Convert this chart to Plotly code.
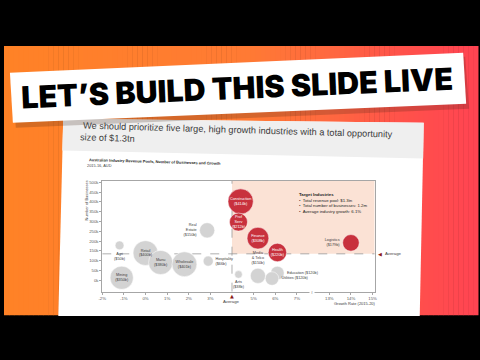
import plotly.graph_objects as go

W, H = 480, 360

# ---------------- data ----------------
industries = ["Agri", "Mining", "Retail", "Manu", "Wholesale", "Real Estate", "Hospitality", "Arts",
              "Construction", "Prof Serv", "Finance", "Health", "Logistics",
              "Media & Telco", "Education", "Utilities"]
labels = ["Agri<br>($50b)", "Mining<br>($350b)", "Retail<br>($400b)", "Manu<br>($380b)",
          "Wholesale<br>($401b)", "Real<br>Estate<br>($150b)", "Hospitality<br>($66b)", "Arts<br>($38b)",
          "Construction<br>($414b)", "Prof<br>Serv<br>($212b)", "Finance<br>($308b)", "Health<br>($220b)",
          "Logistics<br>($179b)", "Media<br>& Telco<br>($150b)", "Education ($120b)", "Utilities ($120b)"]
growth = [-1.2, -1.1, 0.0, 0.7, 1.8, 2.85, 2.9, 4.3, 4.4, 4.3, 5.2, 6.1, 14.0, 5.2, 6.1, 5.85]
businesses = [178000, 13000, 139000, 91000, 82000, 255000, 98000, 30000,
              402000, 297000, 215000, 142000, 191000, 23000, 37000, 9000]
revenue = [50, 350, 400, 380, 401, 150, 66, 38, 414, 212, 308, 220, 179, 150, 120, 120]
target = [False] * 8 + [True] * 5 + [False] * 3
label_pos = ["bottom center", "middle center", "middle center", "middle center", "middle center",
             "middle left", "middle right", "bottom center",
             "middle center", "middle center", "middle center", "middle center", "middle left",
             "top center", "middle right", "middle right"]

avg_growth = 4.0
avg_businesses = 135000

growth_ticks = [-2, -1, 0, 1, 2, 3, 5, 6, 7, 13, 14, 15]
growth_ticktext = ["-2%", "-1%", "0%", "1%", "2%", "3%", "5%", "6%", "7%", "13%", "14%", "15%"]
business_ticks = [0, 50000, 100000, 150000, 200000, 250000, 300000, 350000, 400000, 450000, 500000]
business_ticktext = ["0k", "50k", "100k", "150k", "200k", "250k", "300k", "350k", "400k", "450k", "500k"]

target_notes = ["Total revenue pool: $1.3tn", "Total number of businesses: 1.2m",
                "Average industry growth: 6.1%"]

# axis break (7% .. 13% compressed)
BREAK_AT, BREAK_GAP = 7.75, 4.5


def disp(g):
    return g if g < BREAK_AT else g - BREAK_GAP


X_RANGE = [-2, 10.6]
Y_RANGE = [-58000, 509000]


# ---------------- helpers ----------------
def px(x):
    return x / W


def py(y):
    return 1 - y / H


def poly(pts):
    return "M " + " L ".join(f"{px(x):.5f},{py(y):.5f}" for x, y in pts) + " Z"


def lerp_color(x):
    stops = [(0, (255, 130, 38)), (250, (255, 122, 52)), (330, (255, 104, 64)),
             (400, (255, 82, 74)), (480, (255, 68, 82))]
    for (x0, c0), (x1, c1) in zip(stops[:-1], stops[1:]):
        if x0 <= x <= x1:
            t = (x - x0) / (x1 - x0)
            return "rgb(%d,%d,%d)" % tuple(round(a + (b - a) * t) for a, b in zip(c0, c1))
    return "rgb(255,68,82)"


shapes = []
# gradient background
step = 5
for i in range(0, W, step):
    shapes.append(dict(type="rect", xref="paper", yref="paper", x0=px(i), x1=px(i + step + 0.5),
                       y0=py(315), y1=py(45), fillcolor=lerp_color(i + step / 2),
                       line=dict(width=0), layer="below"))
# slide
shapes.append(dict(type="path", xref="paper", yref="paper",
                   path=poly([(60, 118), (425, 122), (421, 316), (55, 316)]),
                   fillcolor="white", line=dict(width=0), layer="below"))
# grey title band
shapes.append(dict(type="path", xref="paper", yref="paper",
                   path=poly([(60, 118), (425, 122), (424.5, 158), (59, 150)]),
                   fillcolor="#efefef", line=dict(width=0), layer="below"))
# banner shadow
shapes.append(dict(type="path", xref="paper", yref="paper",
                   path=poly([(8, 75), (467, 56), (471, 108), (12, 127)]),
                   fillcolor="rgba(60,30,20,0.22)", line=dict(width=0), layer="below"))
# banner
shapes.append(dict(type="path", xref="paper", yref="paper",
                   path=poly([(6, 72), (465, 52), (468, 103), (9, 122)]),
                   fillcolor="white", line=dict(width=0), layer="below"))
# target region
shapes.append(dict(type="rect", xref="x", yref="y", x0=avg_growth, x1=X_RANGE[1],
                   y0=avg_businesses, y1=Y_RANGE[1], fillcolor="#fbe2d5",
                   line=dict(width=0), layer="below"))
# average lines
shapes.append(dict(type="line", xref="x", yref="y", x0=avg_growth, x1=avg_growth,
                   y0=Y_RANGE[0], y1=Y_RANGE[1], line=dict(color="#8c8c8c", width=0.7, dash="dash"),
                   layer="below"))
shapes.append(dict(type="line", xref="x", yref="y", x0=X_RANGE[0], x1=X_RANGE[1],
                   y0=avg_businesses, y1=avg_businesses,
                   line=dict(color="#8c8c8c", width=0.7, dash="dash"), layer="below"))

fig = go.Figure()

for is_target, color in [(False, "#d3d3d3"), (True, "#c8313d")]:
    idx = [i for i, t in enumerate(target) if t == is_target]
    fig.add_trace(go.Scatter(
        x=[disp(growth[i]) for i in idx],
        y=[businesses[i] for i in idx],
        mode="markers+text",
        text=[labels[i] for i in idx],
        textposition=[label_pos[i] for i in idx],
        textfont=dict(family="Liberation Sans", size=3.8,
                      color=[("white" if (is_target and label_pos[i] == "middle center") else "#404040")
                             for i in idx]),
        marker=dict(size=[revenue[i] for i in idx], sizemode="area", sizeref=1.3,
                    color=color, line=dict(color="white", width=0.5), opacity=1),
        hovertext=[industries[i] for i in idx],
        cliponaxis=False,
        showlegend=False,
    ))

ann = []
# banner text
ann.append(dict(xref="paper", yref="paper", x=px(236), y=py(87), text="LET’S BUILD THIS SLIDE LIVE",
                showarrow=False, textangle=-2.5, xanchor="center", yanchor="middle",
                font=dict(family="Inter", size=30.5, color="black", weight=900)))
# slide title
ann.append(dict(xref="paper", yref="paper", x=px(237), y=py(129.5),
                text="We should prioritize five large, high growth industries with a total opportunity",
                showarrow=False, textangle=1.65, xanchor="center", yanchor="middle",
                font=dict(family="Liberation Sans", size=9.2, color="#3c3c3c")))
ann.append(dict(xref="paper", yref="paper", x=px(105), y=py(137.5), text="size of $1.3tn",
                showarrow=False, textangle=1.65, xanchor="center", yanchor="middle",
                font=dict(family="Liberation Sans", size=9.2, color="#3c3c3c")))
# chart title
ann.append(dict(xref="paper", yref="paper", x=px(153), y=py(160.5),
                text="<b>Australian Industry Revenue Pools, Number of Businesses and Growth</b>",
                showarrow=False, textangle=1.6, xanchor="center", yanchor="middle",
                font=dict(family="Liberation Sans", size=3.9, color="#222222")))
ann.append(dict(xref="paper", yref="paper", x=px(82), y=py(165), text="2015-16, AUD",
                showarrow=False, xanchor="left", yanchor="middle",
                font=dict(family="Liberation Sans", size=3.9, color="#444444")))
# axis titles
ann.append(dict(xref="paper", yref="paper", x=px(83), y=py(200), text="Number of Businesses",
                showarrow=False, textangle=-90, xanchor="center", yanchor="middle",
                font=dict(family="Liberation Sans", size=4, color="#404040")))
ann.append(dict(xref="paper", yref="paper", x=px(379), y=py(303), text="Growth Rate (2015-20)",
                showarrow=False, xanchor="right", yanchor="middle",
                font=dict(family="Liberation Sans", size=4, color="#404040")))
# target industries note
ann.append(dict(xref="x", yref="y", x=disp(7.0), y=462000,
                text="<b>Target Industries</b><br>" + "<br>".join("•  " + t for t in target_notes),
                showarrow=False, xanchor="left", yanchor="top", align="left",
                font=dict(family="Liberation Sans", size=4.3, color="#222222")))
# average markers
ann.append(dict(xref="x", yref="paper", x=avg_growth, y=py(291.5), yshift=-4.5, text="▲",
                showarrow=False, xanchor="center", yanchor="middle",
                font=dict(family="DejaVu Sans", size=5, color="#8b1a1a")))
ann.append(dict(xref="x", yref="paper", x=avg_growth, y=py(291.5), yshift=-9.5, text="Average",
                showarrow=False, xanchor="center", yanchor="middle",
                font=dict(family="Liberation Sans", size=4.3, color="#404040")))
ann.append(dict(xref="paper", yref="y", x=px(375.4), xshift=5, y=avg_businesses, text="◀",
                showarrow=False, xanchor="center", yanchor="middle",
                font=dict(family="DejaVu Sans", size=5, color="#8b1a1a")))
ann.append(dict(xref="paper", yref="y", x=px(375.4), xshift=8.5, y=avg_businesses, text="Average",
                showarrow=False, xanchor="left", yanchor="middle",
                font=dict(family="Liberation Sans", size=4.3, color="#404040")))
# axis break mark
ann.append(dict(xref="x", yref="paper", x=disp(7.0) + 0.7, y=py(291.5), text="≀",
                showarrow=False, xanchor="center", yanchor="middle", bgcolor="white",
                font=dict(family="DejaVu Sans", size=5, color="#808080")))

fig.update_layout(
    width=W, height=H,
    margin=dict(l=0, r=0, t=0, b=0),
    paper_bgcolor="black",
    plot_bgcolor="rgba(0,0,0,0)",
    shapes=shapes,
    annotations=ann,
    xaxis=dict(domain=[px(99.5), px(375.4)], range=X_RANGE,
               tickvals=[disp(t) for t in growth_ticks], ticktext=growth_ticktext,
               showline=True, mirror=True, linecolor="#a6a6a6", linewidth=0.8,
               ticks="outside", ticklen=2, tickcolor="#a6a6a6", tickwidth=0.6,
               tickfont=dict(family="Liberation Sans", size=4.3, color="#595959"),
               showgrid=False, zeroline=False),
    yaxis=dict(domain=[py(291.5), py(180)], range=Y_RANGE,
               tickvals=business_ticks, ticktext=business_ticktext,
               showline=True, mirror=True, linecolor="#a6a6a6", linewidth=0.8,
               ticks="outside", ticklen=2, tickcolor="#a6a6a6", tickwidth=0.6,
               tickfont=dict(family="Liberation Sans", size=4.3, color="#595959"),
               showgrid=False, zeroline=False),
    showlegend=False,
)

fig.write_html("out.html")
